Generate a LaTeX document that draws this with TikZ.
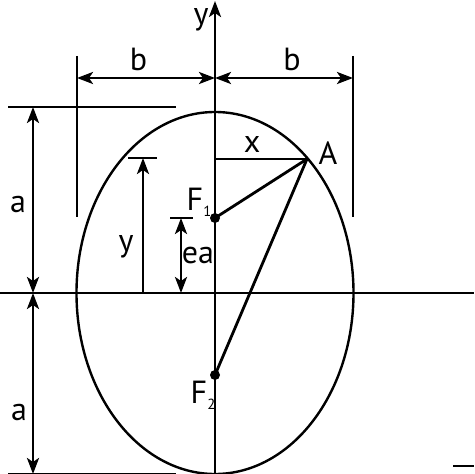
\documentclass[tikz,border=0pt]{standalone}
\usepackage{fontspec}
\setmainfont{PT Sans}
\usepackage{tikz}
\usetikzlibrary{arrows.meta}

\tikzset{
  bigtext/.style={font=\fontsize{24}{28}\selectfont, inner sep=0.75pt, anchor=base},
  solid line/.style={line width=2.1},
  dim line/.style={line width=2.1, {Stealth[length=12pt,width=9pt,inset=3pt]}-{Stealth[length=12pt,width=9pt,inset=3pt]}},
  dim up/.style={line width=2.1, -{Stealth[length=12pt,width=9pt,inset=3pt]}},
}
\newcommand{\subsc}[1]{\raisebox{-0.2em}{\fontsize{11}{13}\selectfont #1}}

\begin{document}
\begin{tikzpicture}[x=0.75pt,y=0.75pt,yscale=-1,xscale=1]
\useasboundingbox (0,0) rectangle (474,474);

% points
\coordinate (O) at (215,293);
\coordinate (F1) at (215,218);
\coordinate (F2) at (215,375);
\coordinate (A) at (307,159);
\coordinate (Ay) at (215,159);

%Shape: Ellipse
\draw [line width=1.8] (O) ellipse [x radius=138.5, y radius=181];

%Shape: Axis 2D
\draw [solid line] (0,293) -- (474,293);
\draw [dim up] (215,474) -- (215,1);

%Straight Lines: extension lines
\draw [solid line] (77,56) -- (77,217);
\draw [solid line] (353,56) -- (353,217);
\draw [solid line] (8,107) -- (176,107);
\draw [solid line] (8,474) -- (176,474);
\draw [solid line] (128,158) -- (157,158);
\draw [solid line] (170,218) -- (193,218);
\draw [solid line] (453,466) -- (474,466);

%Straight Lines: dimensions
\draw [dim line] (77,78) -- (215,78);
\draw [dim line] (215,78) -- (353,78);
\draw [dim line] (33,107) -- (33,293);
\draw [dim line] (33,293) -- (33,474);
\draw [dim up] (143,293) -- (143,158);
\draw [dim line] (181,218) -- (181,293);

%Straight Lines: to A
\draw [solid line] (Ay) -- (A);
\draw [solid line] (F1) -- (A);
\draw [solid line] (F2) -- (A);

% foci
\fill (F1) circle (5);
\fill (F2) circle (5);

% Text Node
\node [bigtext] (ylab) at (201,25) {y};
% Text Node
\node [bigtext] (bl) at (138.5,71) {b};
% Text Node
\node [bigtext] (br) at (292,71) {b};
% Text Node
\node [bigtext] (au) at (18,212) {a};
% Text Node
\node [bigtext] (ad) at (19,420) {a};
% Text Node
\node [bigtext] (xlab) at (252,152) {x};
% Text Node
\node [bigtext] (Alab) at (328,165) {A};
% Text Node
\node [bigtext] (ydim) at (126,251) {y};
% Text Node
\node [bigtext] (ealab) at (198,263) {ea};
% Text Node
\node [bigtext] (F1lab) at (199,210) {F\subsc{1}};
% Text Node
\node [bigtext] (F2lab) at (203,403) {F\subsc{2}};

\end{tikzpicture}
\end{document}
